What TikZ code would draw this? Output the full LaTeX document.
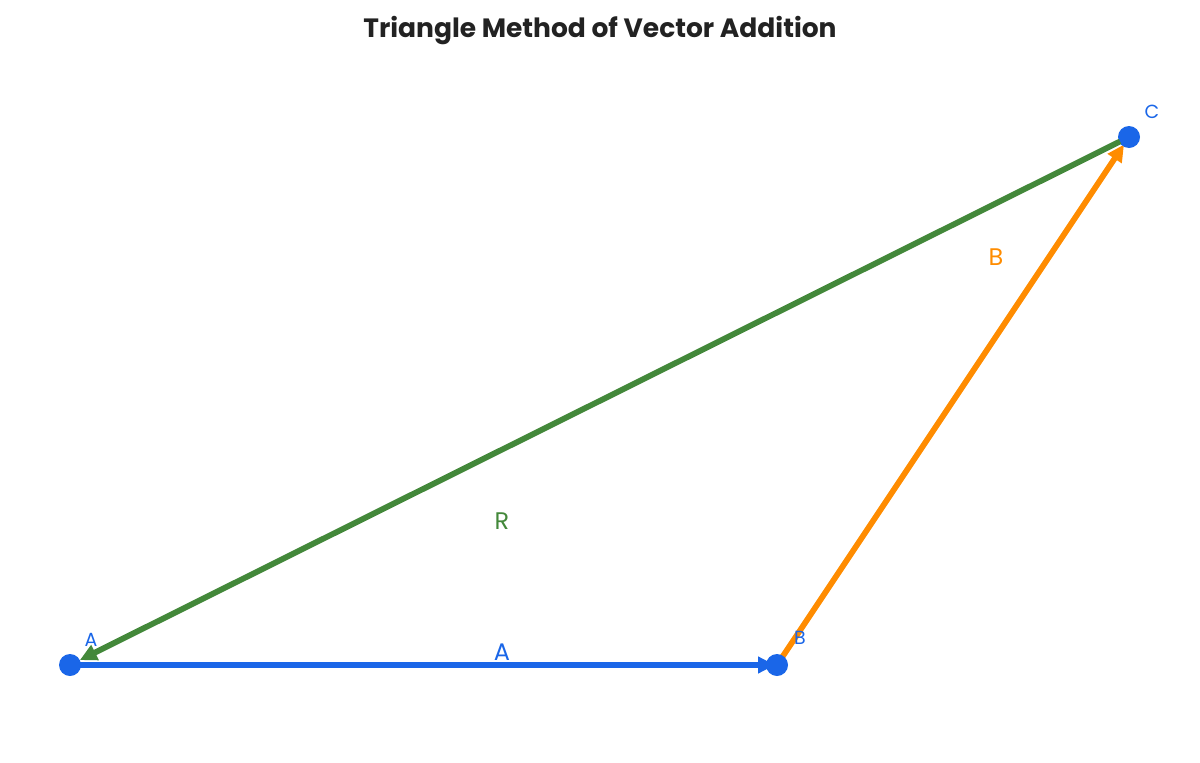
\documentclass[tikz,border=0pt]{standalone}
\usepackage{fontspec}
\setmainfont{Poppins}
\usetikzlibrary{arrows.meta}
\definecolor{vblue}{HTML}{1A66E8}
\definecolor{vorange}{HTML}{FF8C00}
\definecolor{vgreen}{HTML}{43883A}
\definecolor{ttl}{HTML}{222222}
\begin{document}
\begin{tikzpicture}[x=1pt,y=-1pt,
  pt/.style={circle,fill=vblue,inner sep=0pt,minimum size=22pt},
  vec/.style={line width=5.8pt,-{Triangle[length=17pt,width=16pt]}},
  lbl/.style={font=\fontsize{19}{22}\selectfont},
  mlbl/.style={font=\fontsize{24}{28}\selectfont},
]
\useasboundingbox (0,0) rectangle (1200,763);
\coordinate (pA) at (70,665);
\coordinate (pB) at (777,665);
\coordinate (pC) at (1129,137);
\node[font=\fontsize{26.5}{30}\selectfont\bfseries,text=ttl] (title) at (600,31) {Triangle Method of Vector Addition};
\draw[vec,vblue,shorten >=2pt] (pA) -- (pB);
\draw[vec,vorange,shorten >=9pt] (pB) -- (pC);
\node[pt] (nA) at (pA) {};
\node[pt] (nB) at (pB) {};
\node[pt] (nC) at (pC) {};
\draw[vec,vgreen,shorten >=11pt,shorten <=10pt] (pC) -- (pA);
\node[lbl,text=vblue] (lA) at (91,640) {A};
\node[lbl,text=vblue] (lB) at (800,638) {B};
\node[lbl,text=vblue] (lC) at (1152,112) {C};
\node[mlbl,text=vblue] (mA) at (502,652) {A};
\node[mlbl,text=vorange] (mB) at (996,257) {B};
\node[mlbl,text=vgreen] (mR) at (502,521) {R};
\end{tikzpicture}
\end{document}
